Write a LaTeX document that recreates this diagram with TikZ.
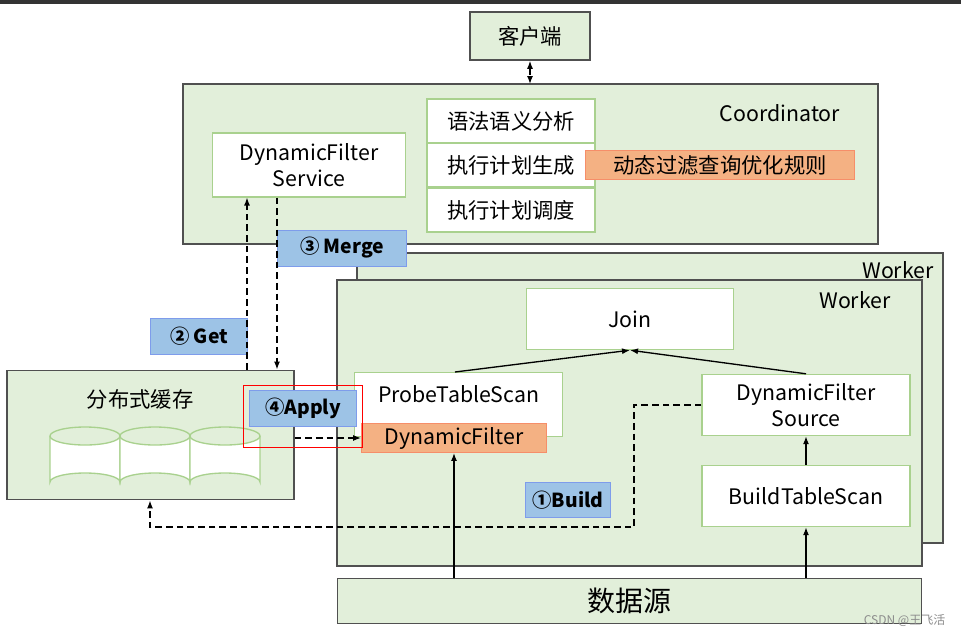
\documentclass[tikz,border=0pt]{standalone}
\usepackage{fontspec}
\setmainfont{Noto Sans CJK SC}
\usetikzlibrary{shapes.geometric, arrows.meta}
\definecolor{pgreen}{HTML}{E2EFDA}
\definecolor{pborder}{HTML}{505050}
\definecolor{bgreen}{HTML}{A9D18E}
\definecolor{porange}{HTML}{F4B183}
\definecolor{pblue}{HTML}{9DC3E6}
\tikzset{
  frame/.style={draw=pborder, fill=pgreen, line width=1.2pt},
  wbox/.style={draw=bgreen, fill=white, line width=0.8pt, align=center, font=\fontsize{16}{20}\selectfont},
  obox/.style={fill=porange, draw=porange!80!red, align=center, font=\fontsize{16}{20}\selectfont},
  tag/.style={fill=pblue, draw=pblue!80!blue, font=\bfseries\fontsize{14.5}{17}\selectfont},
  dflow/.style={dash pattern=on 5pt off 3pt, line width=1pt, -{Latex[length=6pt]}},
  sflow/.style={line width=1pt, -{Latex[length=6pt]}},
}
\begin{document}
\begin{tikzpicture}[x=0.75pt,y=-0.75pt]
\useasboundingbox (0,0) rectangle (961,637);
\fill[white] (0,0) rectangle (961,637);
\fill[black!80] (0,0) rectangle (961,4);
% client
\node (client) [frame, minimum width=90pt, minimum height=36pt, font=\fontsize{16}{18}\selectfont] at (530,36) {客户端};
% coordinator
\draw[frame] (183,84) rectangle (878,244);
\coordinate (coordtop) at (530,84);
\node (coordlbl) [font=\fontsize{16}{18}\selectfont] at (780,113) {Coordinator};
\node (svc) [wbox, minimum width=145pt, minimum height=48pt] at (309,165) {DynamicFilter\\Service};
\node (s1) [wbox, minimum width=126pt, minimum height=33pt] at (511,121) {语法语义分析};
\node (s2) [wbox, minimum width=126pt, minimum height=33pt] at (511,165) {执行计划生成};
\node (s3) [wbox, minimum width=126pt, minimum height=33pt] at (511,210) {执行计划调度};
\node (rule) [obox, minimum width=202pt, minimum height=22pt, inner sep=0pt] at (720,165) {动态过滤查询优化规则};
% workers
\draw[frame] (357,253) rectangle (943,543);
\node (w2) [font=\fontsize{16}{18}\selectfont] at (898,270) {Worker};
\draw[frame] (337,280) rectangle (922,566);
\node (w1) [font=\fontsize{16}{18}\selectfont] at (855,300) {Worker};
\node (merge) [tag, minimum width=97pt, minimum height=27pt] at (342,248) {③ Merge};
\node (join) [wbox, minimum width=155pt, minimum height=46pt] at (630,319) {Join};
\node (probe) [wbox, minimum width=156pt, minimum height=48pt, anchor=north west, text depth=16pt, inner sep=2pt] at (354,372) {ProbeTableScan};
\node (df) [obox, minimum width=139pt, minimum height=22pt, inner sep=0pt] at (454,438) {DynamicFilter};
\node (dfs) [wbox, minimum width=156pt, minimum height=46pt] at (806,405) {DynamicFilter\\Source};
\node (bts) [wbox, minimum width=156pt, minimum height=46pt] at (806,496) {BuildTableScan};
\node (build) [tag, minimum width=64pt, minimum height=26pt] at (568,500) {①Build};
% data source
\node (src) [frame, minimum width=438pt, minimum height=34pt, font=\fontsize{21}{24}\selectfont] at (629.5,601) {数据源};
% cache
\node (cache) [frame, minimum width=215pt, minimum height=97pt] at (150.5,435) {};
\node (cachelbl) [font=\fontsize{16}{18}\selectfont] at (140,399) {分布式缓存};
\foreach \cx in {85,155,225}{
  \fill[white] (\cx-35,436) -- (\cx-35,482) arc[start angle=180, end angle=360, x radius=35, y radius=9]
    -- (\cx+35,436) arc[start angle=0, end angle=180, x radius=35, y radius=9] -- cycle;
  \draw[bgreen, line width=1pt] (\cx-35,436) -- (\cx-35,482) arc[start angle=180, end angle=360, x radius=35, y radius=9]
    -- (\cx+35,436);
  \draw[bgreen, line width=1pt] (\cx,436) ellipse[x radius=35, y radius=9];
}
\node (get) [tag, minimum width=73pt, minimum height=27pt] at (199,336) {② Get};
\node (apply) [tag, minimum width=80pt, minimum height=27pt] at (303,408) {④Apply};
% connectors
\draw[dflow, {Latex[length=6pt]}-{Latex[length=6pt]}] (client.south) -- (coordtop);
\draw[dflow] (cache.north -| 247,0) -- (svc.south -| 247,0);
\draw[dflow] (svc.south -| 277,0) -- (cache.north -| 277,0);
\draw[dflow] (cache.east |- df.west) -- (df.west);
\draw[dflow] (dfs.west) -| (634,527) -| (cache.south -| 150,0);
\draw[sflow] (probe.north -| 455,0) -- (join.south);
\draw[sflow] (dfs.north) -- (join.south);
\draw[sflow] (bts.north) -- (dfs.south);
\draw[sflow] (src.north -| df.south) -- (df.south);
\draw[sflow] (src.north -| bts.south) -- (bts.south);
\draw[red, line width=0.7pt] (243,385) rectangle (362,447);
\node (wm) [text=black!45, font=\fontsize{9}{11}\selectfont, anchor=east] at (950,621) {CSDN @王飞活};
\end{tikzpicture}
\end{document}
